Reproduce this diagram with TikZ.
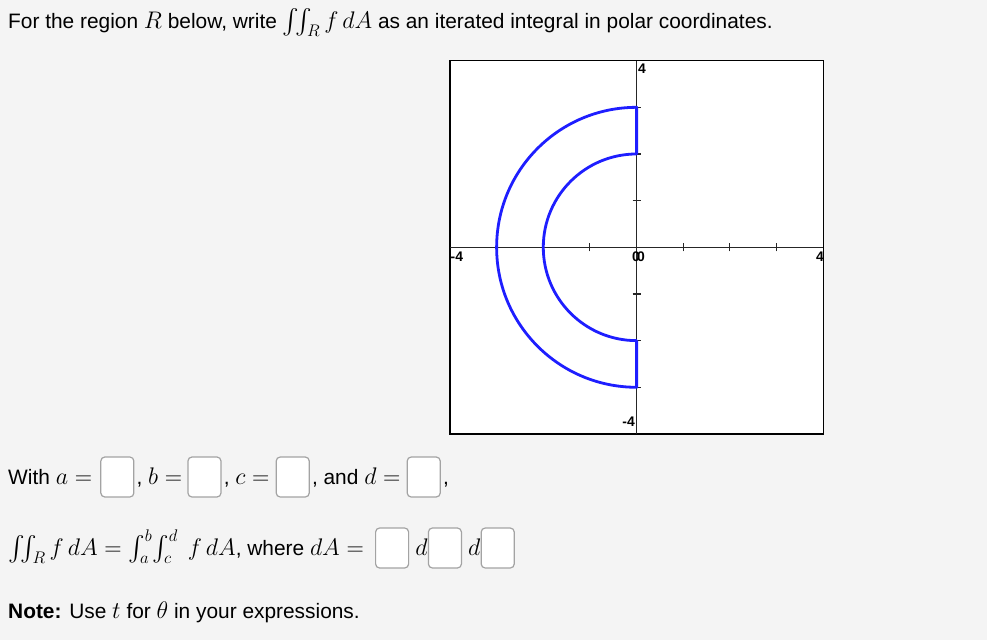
\documentclass[tikz,border=0pt]{standalone}
\usepackage{fix-cm}
\usepackage{amsmath}
\usepackage[no-math]{fontspec}
\setmainfont{Liberation Sans}[Scale=0.87]
\usetikzlibrary{positioning}
\definecolor{pagebg}{HTML}{F4F4F4}
\definecolor{curveblue}{HTML}{1E1EFF}
\definecolor{boxgray}{HTML}{A3A3A3}
\tikzset{
  txt/.style={inner sep=0pt,text height=14pt,text depth=0pt},
  ansbox/.style={rectangle,draw=boxgray,fill=white,rounded corners=4pt,
                 minimum width=33pt,minimum height=40pt,inner sep=0pt,
                 line width=1.2pt},
  plotframe/.style={draw=black,fill=white,line width=1.3pt},
  axis/.style={draw=black!85,line width=1.1pt},
  tick/.style={draw=black!85,line width=1.1pt},
  ticklbl/.style={inner sep=0pt,font=\fontsize{16}{16}\selectfont\bfseries},
  region/.style={draw=curveblue,line width=2.8pt,line join=round},
}

\begin{document}
\begin{tikzpicture}[x=1pt,y=-1pt,font=\fontsize{24}{29}\selectfont]
  \useasboundingbox[fill=pagebg] (0,0) rectangle (987,640);

  % question
  \node[txt,anchor=base west] (title) at (8,28)
    {For the region $R$ below, write $\iint_R f\,dA$ as an iterated integral in polar coordinates.};

  % plot
  \draw[plotframe] (450,60.7) rectangle (823.3,434);
  \begin{scope}[shift={(636.6,247.3)},x=46.66pt,y=46.66pt]
    \draw[axis] (-4,0) -- (4,0);
    \draw[axis] (0,-4) -- (0,4);
    \foreach \k in {-3,-2,-1,1,2,3} {
      \draw[tick] (\k,0) ++(0,-4pt) -- ++(0,8pt);
      \draw[tick] (0,\k) ++(-4pt,0) -- ++(8pt,0);
    }
    \draw[region] (0,3) arc[start angle=90,end angle=270,radius=3]
      -- (0,-2) arc[start angle=270,end angle=90,radius=2] -- cycle;
  \end{scope}
  \node[ticklbl,anchor=north west] (ytop) at (638,63.5) {4};
  \node[ticklbl,anchor=north west] (xleft) at (450.5,252) {-4};
  \node[ticklbl,anchor=north west] (xzero) at (632,252) {0};
  \node[ticklbl,anchor=north west] (yzero) at (637,252) {0};
  \node[ticklbl,anchor=north east] (xright) at (824,252) {4};
  \node[ticklbl,anchor=north east] (ybot) at (635,416.5) {-4};

  % first answer line
  \node[txt,anchor=base west] (wa) at (8,484) {With $a=$};
  \node[ansbox] (ba) [right=8pt of wa] {};
  \node[txt] (wb) [right=2pt of ba] {, $b=$};
  \node[ansbox] (bb) [right=5pt of wb] {};
  \node[txt] (wc) [right=2pt of bb] {, $c=$};
  \node[ansbox] (bc) [right=6pt of wc] {};
  \node[txt] (wd) [right=2pt of bc] {, and $d=$};
  \node[ansbox] (bd) [right=6pt of wd] {};
  \node[txt] (we) [right=2pt of bd] {,};

  % second answer line
  \node[txt,anchor=base west] (eq) at (8,555)
    {$\iint_R f\,dA=\int_a^b\!\int_c^d\ f\,dA$, where $dA=$};
  \node[ansbox] (br) [right=11pt of eq] {};
  \node[txt] (d1) [right=6pt of br] {$d$};
  \node[ansbox] (bs) [right=0pt of d1] {};
  \node[txt] (d2) [right=6pt of bs] {$d$};
  \node[ansbox] (bt) [right=0pt of d2] {};

  % note
  \node[txt,anchor=base west] (note) at (8,618)
    {\textbf{Note:} Use $t$ for $\theta$ in your expressions.};
\end{tikzpicture}
\end{document}
